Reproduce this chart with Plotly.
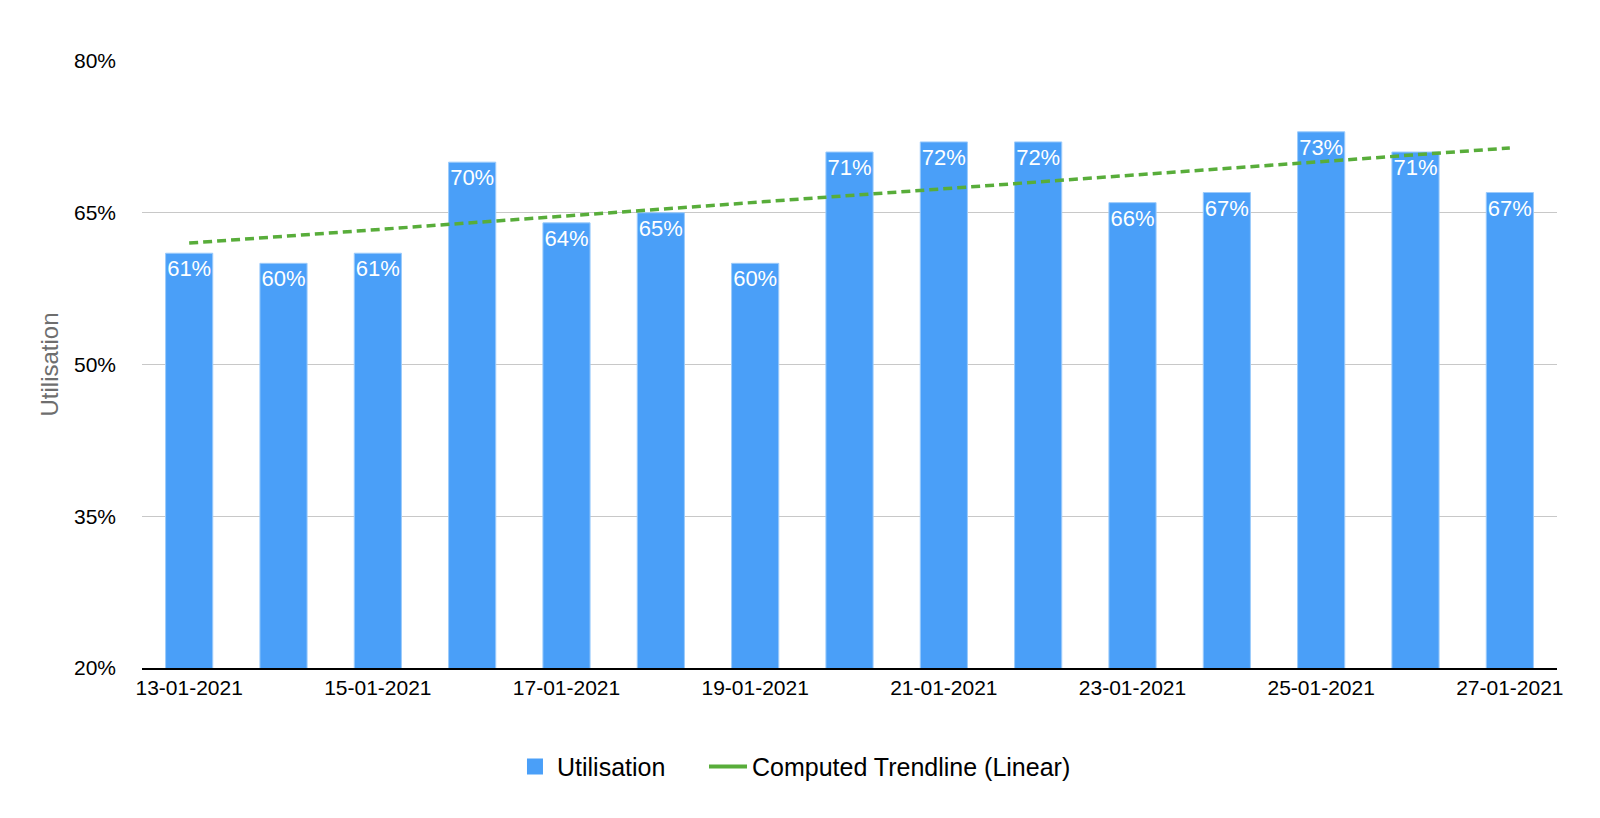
import plotly.graph_objects as go

# daily utilisation
dates = ['13-01-2021', '14-01-2021', '15-01-2021', '16-01-2021', '17-01-2021',
         '18-01-2021', '19-01-2021', '20-01-2021', '21-01-2021', '22-01-2021',
         '23-01-2021', '24-01-2021', '25-01-2021', '26-01-2021', '27-01-2021']
utilisation = [61, 60, 61, 70, 64, 65, 60, 71, 72, 72, 66, 67, 73, 71, 67]

# trendline endpoints (first and last date)
trend_dates = [dates[0], dates[-1]]
trend_values = [62.0, 71.4]

tick_labels = dates[::2]
y_ticks = [20, 35, 50, 65, 80]
y_tick_text = [f'{v}%' for v in y_ticks]

font = 'Liberation Sans, Arial, Helvetica, sans-serif'
bar_color = '#4a9ff8'
trend_color = '#58ad3a'

fig = go.Figure()
fig.add_trace(go.Bar(
    x=dates, y=utilisation, name='Utilisation', showlegend=False,
    marker=dict(color=bar_color, line=dict(color='#9ccbfb', width=1)),
    text=[f'{v}%' for v in utilisation],
    textposition='inside', insidetextanchor='end', textangle=0,
    textfont=dict(color='white', size=22, family=font),
    constraintext='none',
))
fig.add_trace(go.Scatter(
    x=trend_dates, y=trend_values, mode='lines', showlegend=False,
    name='Computed Trendline (Linear)',
    line=dict(color=trend_color, width=3.5, dash='9px,5px'),
))
# legend entries (square and solid line like the original), one legend each
fig.add_trace(go.Scatter(
    x=[None], y=[None], mode='markers', name='Utilisation', legend='legend',
    marker=dict(symbol='square', size=22, color=bar_color),
))
fig.add_trace(go.Scatter(
    x=[None], y=[None], mode='lines', name='Computed Trendline (Linear)',
    legend='legend2', line=dict(color=trend_color, width=4),
))

legend_style = dict(orientation='h', xref='container', yref='container',
                    xanchor='left', y=0.054, yanchor='middle',
                    font=dict(size=25), bgcolor='rgba(0,0,0,0)')

# page has 8px body margin, so the figure is 16px smaller than the window
fig.update_layout(
    width=1584, height=802,
    paper_bgcolor='white', plot_bgcolor='white',
    font=dict(family=font, size=21, color='black'),
    margin=dict(l=134, r=35, t=53, b=142),
    bargap=0.5,
    showlegend=True,
    legend=dict(x=0.3188, itemwidth=34, **legend_style),
    legend2=dict(x=0.4394, itemwidth=38, **legend_style),
)
fig.update_xaxes(
    type='category', tickvals=tick_labels, ticktext=tick_labels,
    showgrid=False, showline=True, linecolor='black', linewidth=1.5,
    ticks='', tickfont=dict(size=21), range=[-0.5, len(dates) - 0.5],
)
fig.update_yaxes(
    range=[20, 80], tickvals=y_ticks, ticktext=y_tick_text,
    showgrid=True, gridcolor='#c8c8c8', gridwidth=1,
    zeroline=False, showline=False, ticks='',
    ticklabelstandoff=25, tickfont=dict(size=21),
    title=dict(text='Utilisation', font=dict(size=24, color='#6e6e6e'),
               standoff=8),
)

fig.write_html("out.html")
